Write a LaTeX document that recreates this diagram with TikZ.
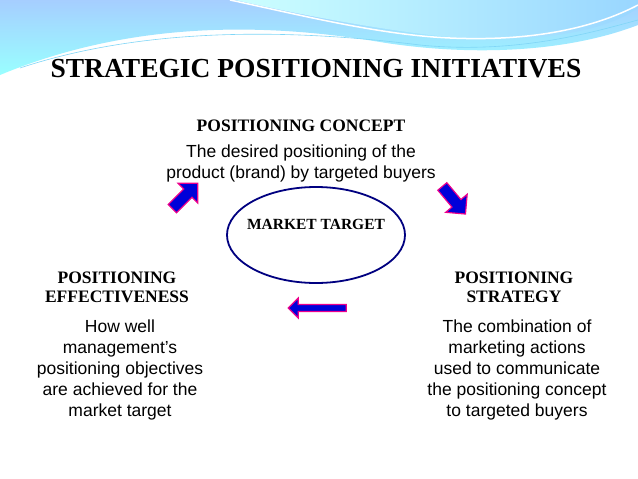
\documentclass[tikz,border=0pt]{standalone}
\usepackage{fontspec}
\setmainfont{Liberation Serif}
\setsansfont{Liberation Sans}
\usetikzlibrary{shapes.arrows,shapes.geometric}
\begin{document}
\begin{tikzpicture}[x=1pt,y=-1pt,
  head/.style={font=\rmfamily\bfseries\fontsize{17.5}{19}\selectfont,align=center},
  body/.style={font=\sffamily\fontsize{17.5}{21}\selectfont,align=center},
  barrow/.style={single arrow,draw=magenta,fill=blue!85!black,line width=1.2pt,minimum height=36pt,minimum width=28pt,single arrow head extend=5pt,inner sep=3pt}]
\useasboundingbox (0,0) rectangle (638,479);
\fill[white] (0,0) rectangle (638,479);
\shade[top color=cyan!45!blue!35,bottom color=cyan!40!white] (0,0) -- (638,0) -- (638,25) .. controls (560,55) and (460,55) .. (380,42) .. controls (250,20) and (120,25) .. (0,75) -- cycle;
\shade[left color=cyan!20!white,right color=cyan!60!blue!40] (235,0) -- (638,0) -- (638,8) .. controls (600,35) and (520,45) .. (430,35) .. controls (350,25) and (280,10) .. (235,0) -- cycle;
\draw[white,line width=1.5pt] (230,0) .. controls (300,15) and (380,35) .. (450,38) .. controls (540,42) and (600,25) .. (638,5);
\draw[cyan!50!white,line width=0.6pt] (20,68) .. controls (150,25) and (300,30) .. (420,45) .. controls (520,55) and (600,30) .. (638,20);
\node[font=\rmfamily\bfseries\fontsize{27.5}{30}\selectfont] (title) at (316,69) {STRATEGIC POSITIONING INITIATIVES};
\node[head] (ch) at (301,126) {POSITIONING CONCEPT};
\node[body] (cb) at (301,163) {The desired positioning of the\\product (brand) by targeted buyers};
\node[ellipse,draw=blue!50!black,line width=1.8pt,minimum width=178pt,minimum height=96pt] (mt) at (316,235) {};
\node[font=\rmfamily\bfseries\fontsize{15.5}{17}\selectfont] (mtl) at (316,224) {MARKET TARGET};
\node[head] (eh) at (117,287) {POSITIONING\\EFFECTIVENESS};
\node[body] (eb) at (120,370) {How well\\management's\\positioning objectives\\are achieved for the\\market target};
\node[head] (sh) at (514,287) {POSITIONING\\STRATEGY};
\node[body] (sb) at (517,370) {The combination of\\marketing actions\\used to communicate\\the positioning concept\\to targeted buyers};
\node[barrow,rotate=45] (a1) at (183,198) {};
\node[barrow,rotate=-50] (a2) at (452,198) {};
\node[barrow,rotate=180,minimum height=58pt,minimum width=20pt,inner sep=2pt] (a3) at (319,308) {};
\end{tikzpicture}
\end{document}
